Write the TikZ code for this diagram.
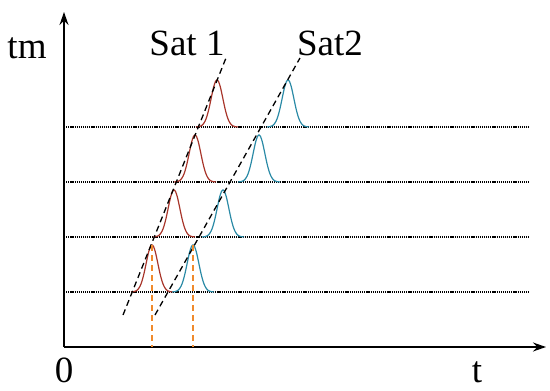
\documentclass[tikz,border=0pt]{standalone}
\usepackage{fontspec}
\setmainfont{Liberation Serif}
\usetikzlibrary{arrows.meta}
\definecolor{redc}{HTML}{A8352A}
\definecolor{bluec}{HTML}{2A8AA6}
\definecolor{orangec}{HTML}{F08A2C}

\begin{document}
\begin{tikzpicture}[x=1pt, y=-1pt, font=\fontsize{37}{40}\selectfont,
  axis/.style={line width=1.4pt, -{Stealth[length=13pt, width=9pt]}},
  level/.style={line width=1.2pt, dash pattern=on 1.2pt off 0.9pt},
  satline/.style={line width=1.3pt, dash pattern=on 6pt off 4pt},
  pulse/.style={line width=1.2pt}]
  \useasboundingbox (0,0) rectangle (550,391);
  % levels
  \foreach \ly in {127,182,237,292}
    \draw[level] (64,\ly) -- (530,\ly);
  % axes
  \coordinate (o) at (64,347);
  \draw[axis] (o) -- (64,12);
  \draw[axis] (o) -- (546,347);
  \node[anchor=base] (tm) at (27,58) {tm};
  \node[anchor=base] (zero) at (64,382) {0};
  \node[anchor=base] (tt) at (477,382) {t};
  % pulses
  \foreach \px/\py in {152/292,174/237,195/182,217/127}
    \draw[pulse, redc] plot[domain=-21:21, samples=60, smooth] ({\px+\x}, {\py-47*exp(-(\x/8.3)^2)});
  \foreach \px/\py in {193/292,223/237,259/182,288/127}
    \draw[pulse, bluec] plot[domain=-21:21, samples=60, smooth] ({\px+\x}, {\py-47*exp(-(\x/8.3)^2)});
  % satellite tracks
  \draw[satline] (123,315) -- (226,58);
  \draw[satline] (155,315) -- (300,58);
  \node[anchor=base] (sat1) at (187,55) {Sat 1};
  \node[anchor=base] (sat2) at (330,55) {Sat2};
  % arrival marks
  \draw[orangec, line width=1.2pt, dash pattern=on 6pt off 4pt] (152,245) -- (152,347);
  \draw[orangec, line width=1.2pt, dash pattern=on 6pt off 4pt] (193,245) -- (193,347);
\end{tikzpicture}
\end{document}
